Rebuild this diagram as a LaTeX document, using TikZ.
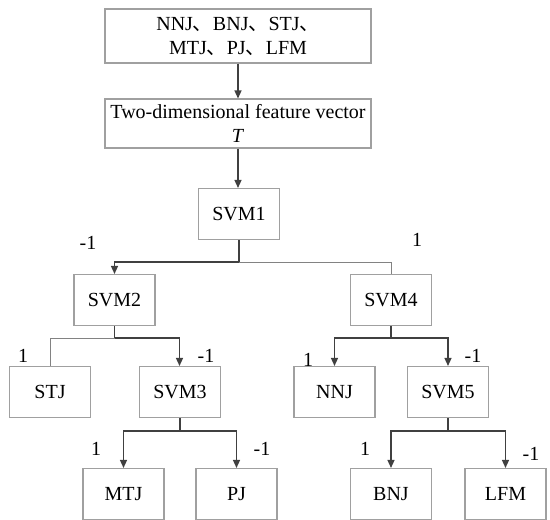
\documentclass[tikz,border=0pt]{standalone}
\usepackage{fontspec}
\setmainfont{Liberation Serif}
\newfontfamily\cjk{Noto Sans CJK SC}
\usepackage{tikz}
\usetikzlibrary{arrows.meta, positioning}
\definecolor{boxgray}{RGB}{160,160,160}
\definecolor{linegray}{RGB}{64,64,64}
\definecolor{thingray}{RGB}{130,130,130}
\newcommand{\dun}{{\cjk 、}}
\newcommand{\drawa}{\draw[line width=1.4pt, color=linegray]}
\newcommand{\drawt}{\draw[line width=1pt, color=thingray]}
\tikzset{
  svmbox/.style={draw=boxgray, line width=1.1pt, minimum width=81pt, minimum height=51pt, inner sep=0pt},
  widebox/.style={svmbox, minimum width=266pt, align=center},
  lab/.style={inner sep=0pt}
}

\begin{document}
\begin{tikzpicture}[x=1pt, y=-1pt, >={Triangle[length=8pt,width=7pt]},
  font=\fontsize{20}{24}\selectfont]
\useasboundingbox (0,0) rectangle (550,520);
% Boxes
\node[widebox, minimum height=54pt] (classes) at (238,36) {NNJ\dun BNJ\dun STJ\dun\\MTJ\dun PJ\dun LFM};
\node[widebox, minimum height=49pt, align=center] (feat) at (238,123.5) {Two-dimensional feature vector\\\textit{T}};
\node[svmbox] (svm1) at (239,214) {SVM1};
\node[svmbox] (svm2) at (114.5,300) {SVM2};
\node[svmbox] (svm4) at (391,300) {SVM4};
\node[svmbox] (stj) at (50,392) {STJ};
\node[svmbox] (svm3) at (180,392) {SVM3};
\node[svmbox] (nnj) at (334.5,392) {NNJ};
\node[svmbox] (svm5) at (448,392) {SVM5};
\node[svmbox] (mtj) at (123.5,494) {MTJ};
\node[svmbox] (pj) at (236.5,494) {PJ};
\node[svmbox] (bnj) at (391,494) {BNJ};
\node[svmbox] (lfm) at (505.5,494) {LFM};
% Connectors
\drawa[->] (classes.south) -- (feat.north);
\drawa[->] (feat.south) -- (feat.south |- svm1.north);
\drawa[->] (svm1.south) -- ++(0,22) -| (svm2.north);
\drawt (svm1.south) ++(0,22) -| (svm4.north);
\drawa (svm2.south) -- ++(0,12) coordinate (b2);
\drawt (b2) -| (stj.north);
\drawa[->] (b2) -| ([xshift=-0.5pt]svm3.north);
\drawa[->] (svm4.south) -- ++(0,12) -| (nnj.north);
\drawa[->] (svm4.south) ++(0,12) -| (svm5.north);
\drawa[->] (svm3.south) -- ++(0,13) -| (mtj.north);
\drawa[->] (svm3.south) ++(0,13) -| (pj.north);
\drawa[->] (svm5.south) -- ++(0,13) -| (bnj.north);
\drawa[->] (svm5.south) ++(0,13) -| (lfm.north);
% Labels
\node[lab] (l1) at (88,243) {-1};
\node[lab] (l2) at (417,240) {1};
\node[lab] (l3) at (23,356) {1};
\node[lab] (l4) at (206,356) {-1};
\node[lab] (l5) at (308,360) {1};
\node[lab] (l6) at (473,356) {-1};
\node[lab] (l7) at (96,449) {1};
\node[lab] (l8) at (262,449) {-1};
\node[lab] (l9) at (365,449) {1};
\node[lab] (l10) at (531,454) {-1};
\end{tikzpicture}
\end{document}
